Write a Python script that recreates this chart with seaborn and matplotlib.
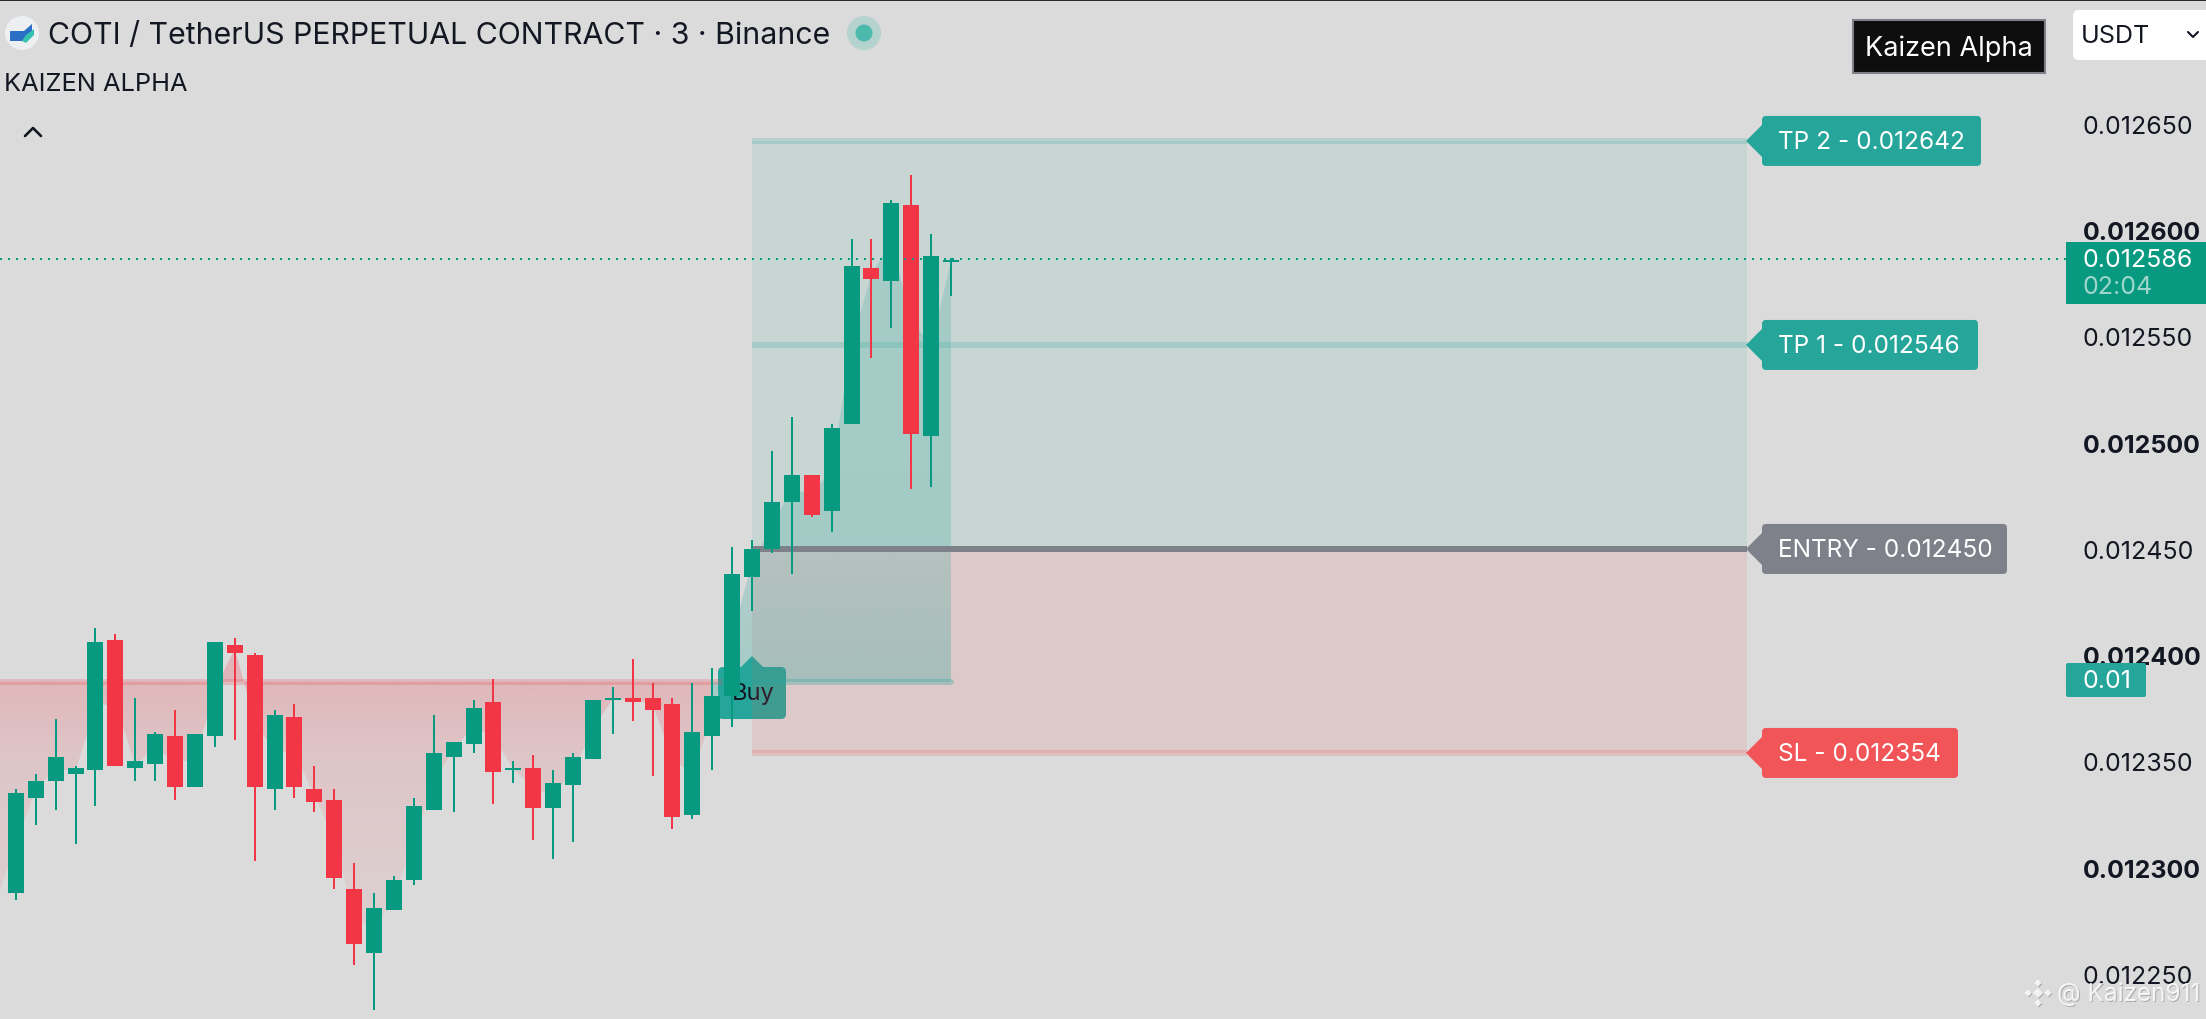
import numpy as np
import pandas as pd
import matplotlib
matplotlib.use("Agg")
import matplotlib.pyplot as plt
import seaborn as sns
from matplotlib.patches import FancyBboxPatch, Polygon, Circle, Rectangle
from matplotlib.transforms import Affine2D

# prices in millionths (12586 = 0.012586)
opens = [12278, 12288, 12333, 12341, 12344, 12346, 12407, 12347, 12349, 12362,
         12338, 12362, 12405, 12400, 12337, 12371, 12337, 12332, 12290, 12260,
         12280, 12294, 12327, 12352, 12358, 12378, 12346, 12347, 12328, 12339,
         12351, 12379, 12380, 12380, 12377, 12325, 12362, 12381, 12437, 12450,
         12472, 12485, 12468, 12509, 12582, 12576, 12612, 12503, 12585]
highs = [12289, 12337, 12344, 12370, 12348, 12413, 12410, 12380, 12364, 12374,
         12363, 12406, 12408, 12401, 12374, 12377, 12348, 12337, 12302, 12288,
         12296, 12333, 12372, 12359, 12379, 12389, 12350, 12353, 12346, 12354,
         12379, 12385, 12398, 12387, 12380, 12387, 12394, 12451, 12454, 12496,
         12512, 12485, 12509, 12596, 12596, 12614, 12626, 12598, 12587]
lows = [12278, 12285, 12320, 12327, 12311, 12329, 12348, 12341, 12341, 12332,
        12338, 12357, 12360, 12303, 12327, 12333, 12326, 12290, 12254, 12233,
        12280, 12292, 12327, 12326, 12354, 12330, 12340, 12313, 12304, 12312,
        12351, 12363, 12369, 12343, 12318, 12323, 12346, 12366, 12421, 12448,
        12438, 12465, 12458, 12509, 12540, 12554, 12478, 12479, 12569]
closes = [12289, 12335, 12341, 12352, 12347, 12406, 12348, 12350, 12363, 12338,
          12363, 12406, 12401, 12338, 12372, 12338, 12331, 12295, 12264, 12281,
          12294, 12329, 12354, 12359, 12375, 12345, 12347, 12328, 12340, 12352,
          12379, 12380, 12378, 12374, 12324, 12364, 12381, 12438, 12450, 12472,
          12485, 12466, 12507, 12583, 12577, 12613, 12504, 12588, 12586]

tick_prices = [12650, 12600, 12550, 12500, 12450, 12400, 12350, 12300, 12250]
bold_ticks = [12600, 12500, 12400, 12300]
tp2, tp1, entry, sl = 12642, 12546, 12450, 12354
last_price = 12586.5
signal_level = 12387.5

BG = "#DBDBDB"
GREEN = "#089981"
RED = "#F23645"
TEAL = "#26A69A"
SL_RED = "#F25557"
GREY = "#7E808A"
INK = "#131722"

sns.set_theme(style="white", rc={"figure.facecolor": BG, "axes.facecolor": BG})
plt.rcParams["font.family"] = ["Inter", "DejaVu Sans"]

fig = plt.figure(figsize=(22.06, 10.2), dpi=100)
ax = fig.add_axes([0, 0, 2066 / 2206, 1])

index = np.arange(len(opens))
opens, highs, lows, closes = map(np.array, (opens, highs, lows, closes))
mids = (opens + closes) / 2
side = np.where(closes >= opens, "up", "down")

# long tables so seaborn can draw one vertical segment per candle
wicks = pd.DataFrame({
    "candle": np.repeat(index, 2),
    "price": np.column_stack([lows, highs]).ravel(),
    "side": np.repeat(side, 2),
})
bodies = pd.DataFrame({
    "candle": np.repeat(index, 2),
    "price": np.column_stack([opens, closes]).ravel(),
    "side": np.repeat(side, 2),
})
palette = {"up": GREEN, "down": RED}

for table, width in ((wicks, 1.44), (bodies, 11.52)):
    sns.lineplot(data=table, x="candle", y="price", hue="side", units="candle",
                 estimator=None, sort=False, palette=palette, legend=False, ax=ax,
                 linewidth=width, solid_capstyle="butt", zorder=8)

ax.set_xlim(0.201, 104.04)
ax.set_ylim(12228.8, 12708.8)
ax.set_xlabel("")
ax.set_ylabel("")
ax.xaxis.set_visible(False)
sns.despine(ax=ax, left=True, bottom=True)
ax.yaxis.tick_right()
ax.set_yticks(tick_prices)
ax.set_yticklabels([f"{p / 1e6:.6f}" for p in tick_prices])
ax.tick_params(axis="y", length=0, pad=12.2, labelsize=18, labelcolor=INK)
for lab, p in zip(ax.get_yticklabels(), tick_prices):
    if p in bold_ticks:
        lab.set_fontweight("bold")

# pixel coordinates of the 2206x1020 canvas, y going down
px = Affine2D().scale(1, -1).translate(0, 1020)


def price_y(price):
    return 1020 - ax.transData.transform((0, price))[1]


def box(x0, y0, x1, y1, color, z, radius=4, **kw):
    patch = FancyBboxPatch((x0, y0), x1 - x0, y1 - y0, boxstyle=f"round,pad=0,rounding_size={radius}",
                           fc=color, ec=kw.pop("ec", "none"), transform=px, clip_on=False, zorder=z, **kw)
    ax.add_patch(patch)


def label(x, y, s, size, color="white", z=12, **kw):
    # centre alignment sits a little high for this font
    ax.text(x, y + 2, s, transform=px, fontsize=size, color=color, va="center", zorder=z, clip_on=False, **kw)


def gradient_fill(x, series, level, rgb, stops, alphas, z):
    poly = ax.fill_between(x, series, level, color="none", lw=0)
    y_grid = np.linspace(12200, 12700, 500)
    img = np.zeros((500, 1, 4))
    img[..., :3] = matplotlib.colors.to_rgb(rgb)
    img[..., 3] = np.interp(y_grid, stops, alphas)[:, None]
    im = ax.imshow(img, extent=[x[0], x[-1], 12200, 12700], origin="lower", aspect="auto",
                   zorder=z, interpolation="bilinear")
    im.set_clip_path(poly.get_paths()[0], transform=ax.transData)


# Buy bubble sits under the zones
bubble_x = ax.transData.transform((38, 0))[0]
box(718, 668, 786, 720, TEAL, 1, radius=5)
ax.add_patch(Polygon([(bubble_x, 657), (bubble_x - 11, 668), (bubble_x + 11, 668)], fc=TEAL, ec="none",
                     transform=px, clip_on=False, zorder=1))
label(753, 692, "Buy", 17, color=INK, z=1.5, ha="center")

# trade zones
zone_x0, zone_x1 = 38, 88
ax.fill_between([zone_x0, zone_x1], entry, tp2, color=TEAL, alpha=0.11, lw=0, zorder=2)
ax.fill_between([zone_x0, zone_x1], sl, entry, color=SL_RED, alpha=0.13, lw=0, zorder=2)
ax.plot([zone_x0, zone_x1], [tp2, tp2], color=TEAL, alpha=0.2, lw=4.32, solid_capstyle="butt", zorder=3)
ax.plot([zone_x0, zone_x1], [tp1, tp1], color=TEAL, alpha=0.2, lw=4.32, solid_capstyle="butt", zorder=3)
ax.plot([zone_x0, zone_x1], [sl, sl], color=SL_RED, alpha=0.2, lw=4.32, solid_capstyle="butt", zorder=3)

# clouds between the signal level and the candle mid prices
x_vals = index.astype(float)
gradient_fill(x_vals[:37], mids[:37], signal_level, RED,
              [12290, 12350, signal_level], [0.08, 0.13, 0.22], 4)
gradient_fill(x_vals[36:], mids[36:], signal_level, TEAL,
              [signal_level, entry, 12620], [0.3, 0.22, 0.2], 4)
ax.plot([x_vals[0] - 1, 36.5], [signal_level, signal_level], color=RED, alpha=0.2, lw=4.32,
        solid_capstyle="butt", zorder=5)
ax.plot([38, 48], [signal_level, signal_level], color=TEAL, alpha=0.3, lw=4.32,
        solid_capstyle="round", zorder=5)
ax.plot([zone_x0, zone_x1], [entry, entry], color=GREY, lw=4.32, solid_capstyle="butt", zorder=6)

# last price line
ax.plot([0.201, 104.04], [last_price, last_price], color=GREEN, lw=1.44, linestyle=(0, (1, 3)), zorder=9)

# level tags right of the zones
tags = [("TP 2 - 0.012642", tp2, TEAL, 1981), ("TP 1 - 0.012546", tp1, TEAL, 1978),
        ("ENTRY - 0.012450", entry, GREY, 2007), ("SL - 0.012354", sl, SL_RED, 1958)]
for text, price, color, right in tags:
    y = price_y(price)
    box(1762, y - 25, right, y + 25, color, 10)
    ax.add_patch(Polygon([(1746, y), (1763, y - 17), (1763, y + 17)], fc=color, ec="none",
                         transform=px, clip_on=False, zorder=10))
    label(1778, y - 1, text, 17.6)

# price scale tags
ax.add_patch(Rectangle((2066, 243), 140, 62, fc=GREEN, ec="none", transform=px, clip_on=False, zorder=10))
label(2083, 259, "0.012586", 18)
label(2083, 286, "02:04", 18, color="#9FD6CC")
box(2066, 664, 2146, 698, TEAL, 10, radius=2)
label(2083, 680, "0.01", 18)

# header
ax.add_patch(Rectangle((0, 0), 2206, 2, fc="#2A2A2A", ec="none", transform=px, clip_on=False, zorder=12))
ax.add_patch(Circle((22, 34), 17, fc="#EDEFF2", ec="none", transform=px, clip_on=False, zorder=11))
ax.add_patch(Polygon([(10, 32), (24, 32), (32, 25), (32, 35), (24, 42), (10, 42)], fc="#2A6FC4", ec="none",
                     transform=px, clip_on=False, zorder=12))
ax.add_patch(Polygon([(22, 42), (26, 36), (34, 30), (34, 36), (26, 44)], fc="#35C2B0", ec="none",
                     transform=px, clip_on=False, zorder=12))
label(48, 34, "COTI / TetherUS PERPETUAL CONTRACT · 3 · Binance", 21.8, color=INK)
ax.add_patch(Circle((864, 34), 17, fc="#B4D3CF", ec="none", transform=px, clip_on=False, zorder=11))
ax.add_patch(Circle((864, 34), 8.5, fc="#4DB8AC", ec="none", transform=px, clip_on=False, zorder=12))
label(4, 83, "KAIZEN ALPHA", 18.3, color=INK)
ax.plot([25, 33, 41], [137, 129, 137], color=INK, lw=1.9, transform=px, clip_on=False, zorder=12)

ax.add_patch(Rectangle((1853, 21), 192, 53, fc="#0E0E0E", ec=GREY, lw=1.5, transform=px, clip_on=False, zorder=11))
label(1949, 47, "Kaizen Alpha", 19.5, ha="center")
box(2073, 11, 2230, 61, "white", 11, radius=6)
label(2081, 35, "USDT", 18, color=INK)
ax.plot([2188, 2193, 2198], [33, 38, 33], color=INK, lw=1.5, transform=px, clip_on=False, zorder=12)

# watermark
for dx, dy, col, a in ((1, 1, "#9A9A9A", 0.7), (0, 0, "white", 0.85)):
    label(2057 + dx, 992 + dy, "@ Kaizen911", 17.5, color=col, alpha=a)
    for cx, cy, r in ((2038, 994, 5), (2038, 984, 3.5), (2038, 1004, 3.5), (2028, 994, 3.5), (2048, 994, 3.5)):
        ax.add_patch(Polygon([(cx + dx, cy + dy - r), (cx + dx + r, cy + dy), (cx + dx, cy + dy + r), (cx + dx - r, cy + dy)],
                             fc=col, ec="none", alpha=a, transform=px, clip_on=False, zorder=12))

ax.set_xlim(0.201, 104.04)
ax.set_ylim(12228.8, 12708.8)
fig.savefig("out.png", dpi=100, facecolor=BG)
